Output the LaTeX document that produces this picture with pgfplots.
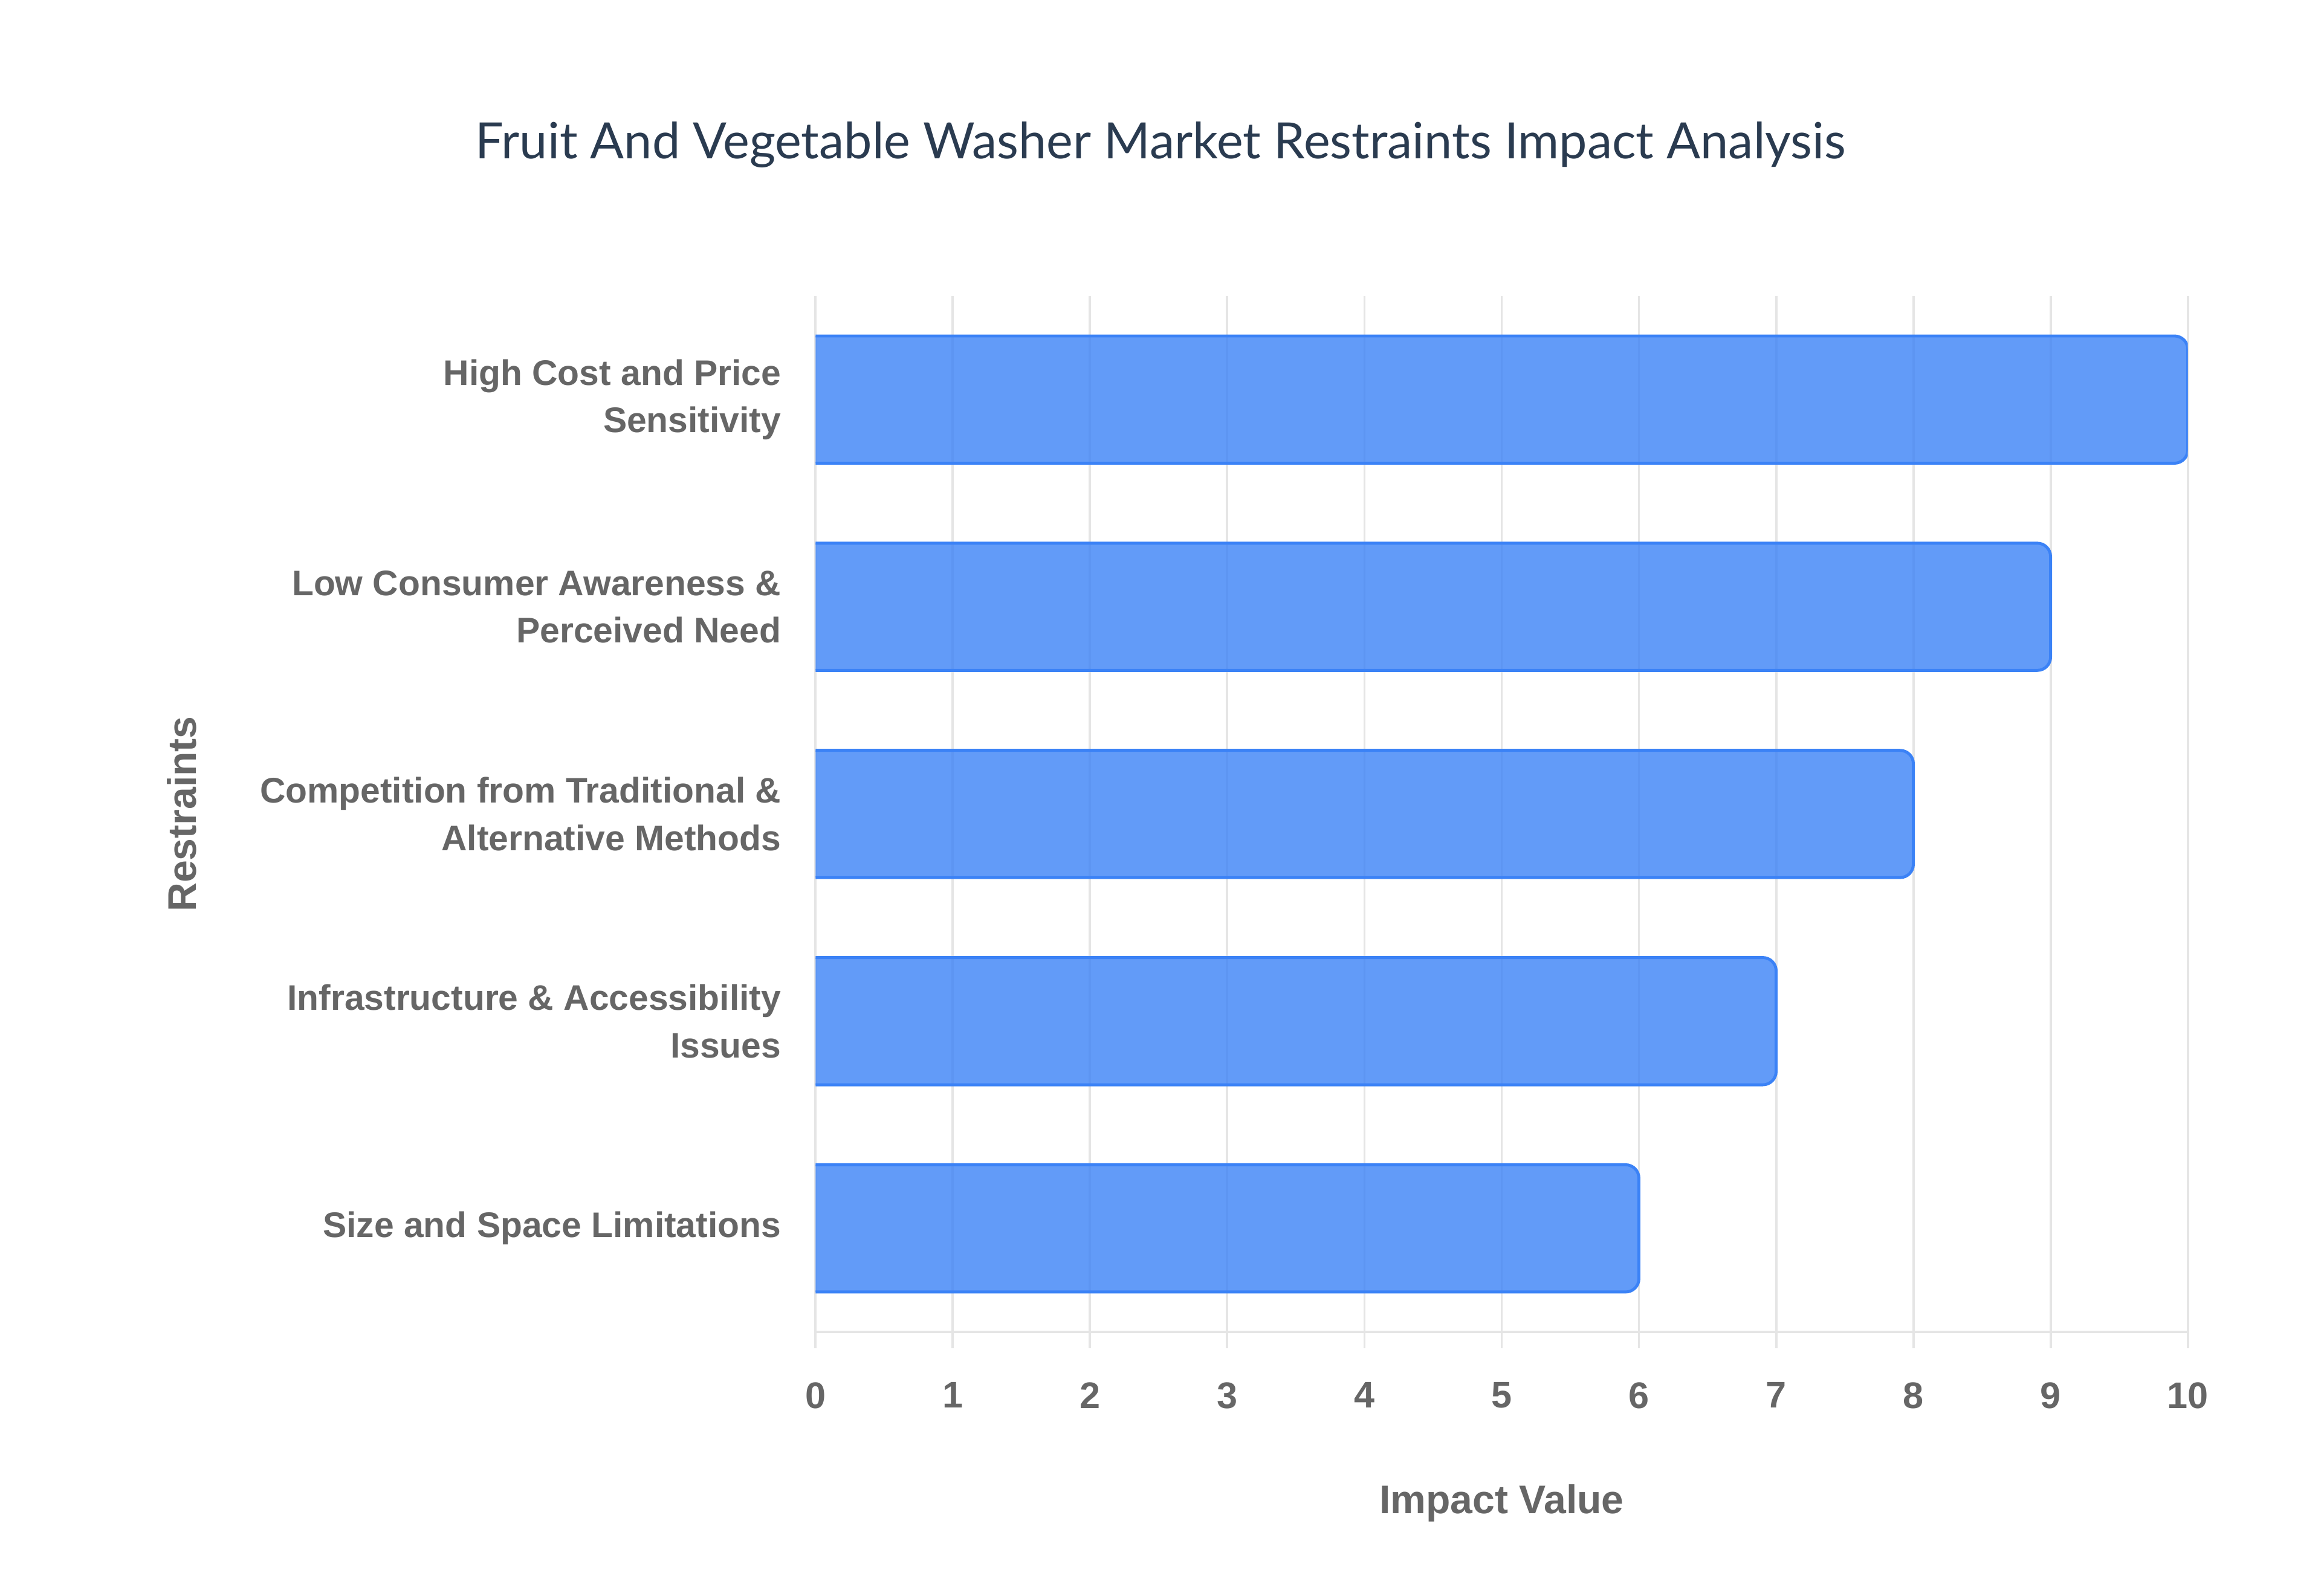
\documentclass[border=0pt]{standalone}
\usepackage{pgfplots}
\pgfplotsset{compat=1.18}
\usepackage{fontspec}
\setmainfont{Liberation Sans}
\newfontfamily\titlefont{Lato}
\definecolor{baredge}{RGB}{59,130,246}
\definecolor{gridc}{RGB}{229,229,229}
\definecolor{labc}{RGB}{102,102,102}
\definecolor{titlec}{RGB}{42,59,80}
\begin{document}
\begin{tikzpicture}
\path[use as bounding box] (-275.5pt,-89pt) rectangle (508.5pt,450pt);
\node[font=\titlefont\fontsize{16.9}{20}\selectfont, text=titlec] at (116.5pt,401pt) {Fruit And Vegetable Washer Market Restraints Impact Analysis};
\begin{axis}[
  at={(0,0)}, anchor=south west,
  scale only axis, width=463.5pt, height=350pt,
  xmin=0, xmax=10, ymin=-0.5, ymax=4.5,
  xtick={0,...,10},
  ytick={0,...,4},
  yticklabels={{Size and Space Limitations},{Infrastructure \& Accessibility\\Issues},{Competition from Traditional \&\\Alternative Methods},{Low Consumer Awareness \&\\Perceived Need},{High Cost and Price\\Sensitivity}},
  yticklabel style={align=right, font=\bfseries\fontsize{12}{16}\selectfont, text=labc, inner sep=0pt, xshift=-6pt},
  xticklabel style={font=\bfseries\fontsize{12.5}{14}\selectfont, text=labc, yshift=-8pt},
  /pgf/number format/assume math mode=true,
  axis x line*=bottom, axis y line*=left,
  axis line style={gridc, line width=0.8pt},
  tick align=outside, major tick length=5.5pt,
  xtick style={gridc, line width=0.8pt},
  ytick style={draw=none},
  xmajorgrids, grid style={gridc, line width=0.8pt},
  xlabel={Impact Value}, ylabel={Restraints},
  label style={font=\bfseries\fontsize{13.5}{16}\selectfont, text=labc},
  xlabel style={at={(axis description cs:0.5,-0.165)}, anchor=center},
  ylabel style={at={(axis description cs:-0.4617,0.5)}, anchor=center},
  clip=true,
  barstyle/.style={mark=none, fill=baredge, fill opacity=0.8, draw=baredge, draw opacity=1, line width=1pt, rounded corners=4.5pt},
]
% each bar: from 0 (left end hidden beyond the axis) to its impact value
\addplot[barstyle] coordinates {(-0.5,-0.307) (6,-0.307) (6,0.307) (-0.5,0.307)} -- cycle;
\addplot[barstyle] coordinates {(-0.5,0.693) (7,0.693) (7,1.307) (-0.5,1.307)} -- cycle;
\addplot[barstyle] coordinates {(-0.5,1.693) (8,1.693) (8,2.307) (-0.5,2.307)} -- cycle;
\addplot[barstyle] coordinates {(-0.5,2.693) (9,2.693) (9,3.307) (-0.5,3.307)} -- cycle;
\addplot[barstyle] coordinates {(-0.5,3.693) (10,3.693) (10,4.307) (-0.5,4.307)} -- cycle;
\end{axis}
\end{tikzpicture}
\end{document}
